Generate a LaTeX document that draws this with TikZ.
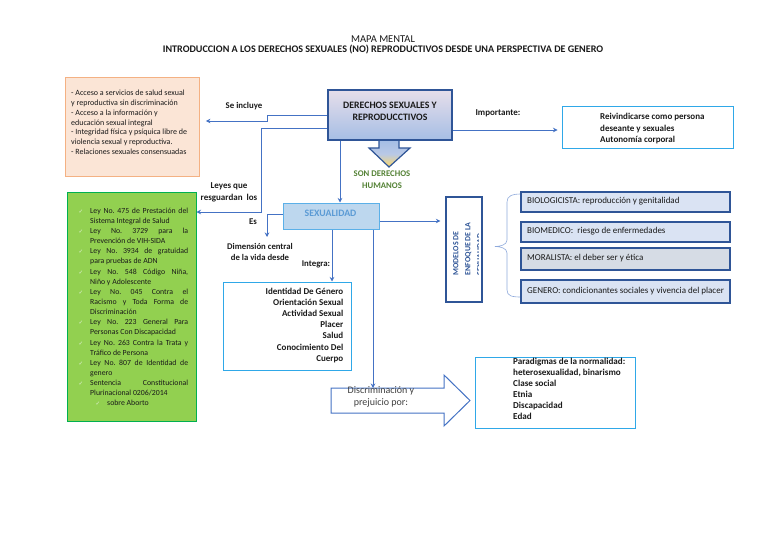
\documentclass[tikz,border=0pt]{standalone}
\usepackage{fontspec}
\setmainfont{Carlito}
\newfontfamily\dejavu{DejaVu Sans}
\usetikzlibrary{arrows.meta}
\frenchspacing
\definecolor{conncol}{HTML}{4472C4}
\definecolor{darkblue}{HTML}{2F5597}
\definecolor{cyanb}{HTML}{2FA8E8}
\definecolor{peachfill}{HTML}{FBE5D6}
\definecolor{peachline}{HTML}{F4B183}
\definecolor{greenfill}{HTML}{92D050}
\definecolor{greenline}{HTML}{00B050}
\definecolor{chkcol}{HTML}{E2F0D9}
\definecolor{sexfill}{HTML}{BDD7EE}
\definecolor{sexline}{HTML}{5BB0E8}
\definecolor{sextext}{HTML}{5B9BD5}
\definecolor{lavfill}{HTML}{DAE3F3}
\definecolor{grayfill}{HTML}{D6DCE5}
\definecolor{dhgreen}{HTML}{548235}
\definecolor{txt}{HTML}{1A1A1A}
\definecolor{discrtext}{HTML}{404040}
\definecolor{bracecol}{HTML}{8FAADC}
\definecolor{shtop}{HTML}{E6DEEA}
\definecolor{shbot}{HTML}{A6BEE5}
\definecolor{shmid}{HTML}{B9C9E6}
\definecolor{shyel}{HTML}{FFD966}
\newcommand{\chk}{\leavevmode\llap{\textcolor{chkcol}{\dejavu\fontsize{5.5}{5}\selectfont ✓}\hspace{7pt}}}
\tikzset{
  conn/.style={draw=conncol, line width=1pt, -{Stealth[length=4.5pt,width=4.5pt]}},
  lbl/.style={font=\fontsize{8.8}{10}\selectfont\bfseries, text=txt, inner sep=0pt, align=center},
  modelbox/.style={draw=darkblue, line width=1.2pt, fill=lavfill, inner sep=0pt},
}
\begin{document}
\begin{tikzpicture}[x=1pt,y=-1pt]
\useasboundingbox (0,0) rectangle (768,543);
\fill[white] (0,0) rectangle (768,543);

% titles
\node[font=\fontsize{10.5}{12}\selectfont, text=txt, inner sep=0pt] (title) at (383,39) {MAPA MENTAL};
\node[font=\fontsize{10.1}{12}\selectfont\bfseries, text=txt, inner sep=0pt] (subtitle) at (383,49.5) {INTRODUCCION A LOS DERECHOS SEXUALES (NO) REPRODUCTIVOS DESDE UNA PERSPECTIVA DE GENERO};

% peach box
\node[draw=peachline, fill=peachfill, line width=0.8pt, minimum width=134pt, minimum height=99pt, inner sep=0pt] (peach) at (132.5,126.5) {};
\node[anchor=north west, inner sep=0pt, align=left, font=\fontsize{8}{9.8}\selectfont, text=txt] (peachtxt) at (71,90) {- Acceso a servicios de salud sexual\\y reproductiva sin discriminación\\- Acceso a la información y\\educación sexual integral\\- Integridad física y psíquica libre de\\violencia sexual y reproductiva.\\- Relaciones sexuales consensuadas};

% derechos box
\shade[top color=shtop, bottom color=shbot] (328,90) rectangle (452,140);
\node[draw=darkblue, line width=1.6pt, minimum width=124pt, minimum height=50pt, inner sep=0pt] (derechos) at (390,115) {};
\node[lbl, font=\fontsize{9.8}{12}\selectfont\bfseries] (derechostxt) at (390,111) {DERECHOS SEXUALES Y\\REPRODUCCTIVOS};

% down block arrow
\shade[top color=shbot, bottom color=shyel, middle color=shmid] (379,141) -- (399,141) -- (399,148) -- (410,148) -- (389,167) -- (369,148) -- (379,148) -- cycle;
\draw[darkblue, line width=1.2pt, line join=miter] (379,141) -- (379,148) -- (369,148) -- (389,167) -- (410,148) -- (399,148) -- (399,141);
\node[lbl, text=dhgreen, font=\fontsize{8.7}{12}\selectfont\bfseries] (sdh) at (382,180) {SON DERECHOS\\HUMANOS};

% reivindicarse
\node[draw=cyanb, line width=1pt, minimum width=171pt, minimum height=42pt, inner sep=0pt] (reiv) at (647.5,127) {};
\node[anchor=north west, inner sep=0pt, align=left, font=\fontsize{9}{11.5}\selectfont\bfseries, text=txt] (reivtxt) at (600,113) {Reivindicarse como persona\\deseante y sexuales\\Autonomía corporal};

% green laws box
\node[draw=greenline, fill=greenfill, line width=1pt, minimum width=129pt, minimum height=229pt, inner sep=0pt] (green) at (131.5,307) {};
\node[anchor=north west, inner sep=0pt, text width=98pt, align=justify, font=\fontsize{7.8}{10.15}\selectfont, text=txt] (laws) at (90,207.5) {%
\chk Ley No. 475 de Prestación del\linebreak Sistema Integral de Salud\par
\chk Ley No. 3729 para la\linebreak Prevención de VIH-SIDA\par
\chk Ley No. 3934 de gratuidad\linebreak para pruebas de ADN\par
\chk Ley No. 548 Código Niña,\linebreak Niño y Adolescente\par
\chk Ley No. 045 Contra el\linebreak Racismo y Toda Forma de\linebreak Discriminación\par
\chk Ley No. 223 General Para\linebreak Personas Con Discapacidad\par
\chk Ley No. 263 Contra la Trata y\linebreak Tráfico de Persona\par
\chk Ley No. 807 de Identidad de\linebreak genero\par
\chk Sentencia Constitucional\linebreak Plurinacional 0206/2014\par
\hspace*{17pt}\chk sobre Aborto\par};

% sexualidad
\node[draw=sexline, fill=sexfill, line width=1pt, minimum width=96pt, minimum height=26pt, inner sep=0pt] (sexualidad) at (331,216) {};
\node[lbl, text=sextext, font=\fontsize{9.8}{11}\selectfont\bfseries] (sextxt) at (330.5,213) {SEXUALIDAD};

% labels
\node[lbl] (seincluye) at (244,106) {Se incluye};
\node[lbl, font=\fontsize{9}{10}\selectfont\bfseries] (importante) at (498,113) {Importante:};
\node[lbl, font=\fontsize{9}{11.7}\selectfont\bfseries] (leyes) at (229,192.5) {Leyes que\\resguardan~ los};
\node[lbl] (es) at (253,222) {Es};
\node[lbl, font=\fontsize{8.7}{10.7}\selectfont\bfseries] (dimension) at (260,252) {Dimensión central\\de la vida desde};
\node[lbl] (integra) at (316,264.5) {Integra:};

% integra box
\node[draw=cyanb, line width=1pt, minimum width=128pt, minimum height=88pt, inner sep=0pt] (integrabox) at (287,326) {};
\node[anchor=north east, inner sep=0pt, align=right, font=\fontsize{9}{11.1}\selectfont\bfseries, text=txt] (integratxt) at (343.5,288) {Identidad De Género\\Orientación Sexual\\Actividad Sexual\\Placer\\Salud\\Conocimiento Del\\Cuerpo};

% modelos box
\node[draw=darkblue, line width=1.2pt, fill=white, minimum width=36pt, minimum height=105pt, inner sep=0pt] (modelos) at (464,249.5) {};
\begin{scope}
\clip (447,198) rectangle (478.5,301);
\node[rotate=90, anchor=north west, inner sep=0pt, align=left, font=\fontsize{7.9}{12}\selectfont\bfseries, text=darkblue] (modelostxt) at (453,275.5) {MODELOS DE\\ENFOQUE DE LA\\SEXUALIDAD};
\end{scope}

% brace
\draw[bracecol, line width=0.6pt] (521,194) .. controls (512,194) and (507,196) .. (507,202) -- (507,240) .. controls (507,245) and (500,246.5) .. (495,246.5) .. controls (500,246.5) and (507,248) .. (507,253) -- (507,290) .. controls (507,296) and (512,297) .. (521,297);

% model boxes
\node[modelbox, minimum width=209pt, minimum height=20pt] (bio) at (625.5,202) {};
\node[modelbox, minimum width=209pt, minimum height=20pt] (biomed) at (625.5,232) {};
\node[modelbox, fill=grayfill, minimum width=209pt, minimum height=22pt] (moral) at (625.5,259) {};
\node[modelbox, minimum width=209pt, minimum height=23pt] (genero) at (625.5,291.5) {};
\tikzset{mt/.style={anchor=west, inner sep=0pt, font=\fontsize{9}{10}\selectfont, text=txt}}
\node[mt] (biotxt) at (527,201.5) {BIOLOGICISTA: reproducción y genitalidad};
\node[mt] (biomedtxt) at (527,231.5) {BIOMEDICO:~ riesgo de enfermedades};
\node[mt] (moraltxt) at (527,258) {MORALISTA: el deber ser y ética};
\node[mt] (generotxt) at (527,291) {GENERO: condicionantes sociales y vivencia del placer};

% block arrow discriminacion
\draw[conncol, line width=1pt, fill=white, line join=miter] (331,388) -- (444,388) -- (444,375) -- (470,400.5) -- (444,426) -- (444,413) -- (331,413) -- cycle;
\coordinate (discr) at (373,388);
\node[inner sep=0pt, align=center, font=\fontsize{10}{12.6}\selectfont, text=discrtext] (discrtxt) at (381,397) {Discriminación y\\prejuicio por:};

% paradigmas box
\node[draw=cyanb, line width=1pt, minimum width=160pt, minimum height=71pt, inner sep=0pt] (paradigmas) at (555,392.5) {};
\node[anchor=north west, inner sep=0pt, align=left, font=\fontsize{9.1}{10.9}\selectfont\bfseries, text=txt] (paratxt) at (513,358) {Paradigmas de la normalidad:\\heterosexualidad, binarismo\\Clase social\\Etnia\\Discapacidad\\Edad};

% connectors
\draw[conn, shorten >=6pt] (derechos.west) -- (267,115) -- (267,121) -- (peach.east |- 0,121);
\draw[conn] (derechos.west |- 0,128) -- (261,128) -- (261,212) -- (green.east |- 0,212);
\draw[conn] (derechos.south -| 340,0) -- (sexualidad.north -| 340,0);
\draw[conn, shorten >=4pt] (derechos.east |- 0,130) -- (reiv.west |- 0,130);
\coordinate (dimtop) at (267,237);
\draw[conn] (sexualidad.west |- 0,214) -- (267,214) -- (dimtop);
\draw[conn] (sexualidad.south -| 332,0) -- (integrabox.north -| 332,0);
\draw[conn] (sexualidad.south -| 373,0) -- (discr);
\draw[conn, shorten >=5pt] (sexualidad.east |- 0,221) -- (modelos.west |- 0,221);
\end{tikzpicture}
\end{document}
